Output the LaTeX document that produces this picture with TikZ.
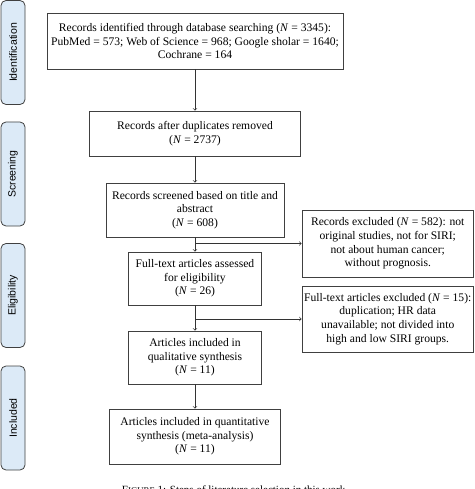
\documentclass[tikz,border=0pt]{standalone}
\usepackage{fontspec}
\setmainfont{Liberation Serif}
\newfontfamily\tabfont{Liberation Sans}
\usepackage{tikz}
\definecolor{tabblue}{HTML}{DCEAF7}

\begin{document}
\begin{tikzpicture}[x=1pt,y=-1pt,
  stagebox/.style={draw=black!75, line width=0.8pt, fill=white, align=center, inner sep=1pt, font=\fontsize{11.6}{13.7}\selectfont},
  phasetab/.style={draw=black!75, line width=0.8pt, fill=tabblue, rounded corners=5pt, minimum width=104pt, minimum height=24pt, rotate=90, inner sep=0pt, font=\tabfont\fontsize{10.5}{12}\selectfont},
  flow/.style={->, draw=black!80, line width=0.7pt}]
\useasboundingbox (0,0) rectangle (474,489);

\node[phasetab] (ident) at (13,52.5) {Identification};
\node[phasetab] (screen) at (13,174) {Screening};
\node[phasetab] (elig) at (13,295.5) {Eligibility};
\node[phasetab] (incl) at (13,418) {Included};

\node[stagebox, minimum width=296pt, minimum height=56pt] (found) at (195,41)
  {Records identified through database searching (\textit{N} = 3345):\\PubMed = 573; Web of Science = 968; Google sholar = 1640;\\Cochrane = 164};
\node[stagebox, minimum width=211pt, minimum height=45pt] (dedup) at (195,133.5)
  {Records after duplicates removed\\(\textit{N} = 2737)};
\node[stagebox, minimum width=178pt, minimum height=54pt] (screened) at (195,210)
  {Records screened based on title and\\abstract\\(\textit{N} = 608)};
\node[stagebox, minimum width=133pt, minimum height=53pt] (fulltext) at (195,278.5)
  {Full-text articles assessed\\for eligibility\\(\textit{N} = 26)};
\node[stagebox, minimum width=133pt, minimum height=53pt] (qual) at (195,357.5)
  {Articles included in\\qualitative synthesis\\(\textit{N} = 11)};
\node[stagebox, minimum width=171pt, minimum height=55pt] (quant) at (195,436.5)
  {Articles included in quantitative\\synthesis (meta-analysis)\\(\textit{N} = 11)};

\node[stagebox, minimum width=171.5pt, minimum height=67pt] (recexcl) at (387.75,243.5)
  {Records excluded (\textit{N} = 582): not\\original studies, not for SIRI;\\not about human cancer;\\without prognosis.};
\node[stagebox, minimum width=171.5pt, minimum height=66pt] (ftexcl) at (387.75,319)
  {Full-text articles excluded (\textit{N} = 15):\\duplication; HR data\\unavailable; not divided into\\high and low SIRI groups.};

\draw[flow] (found) -- (dedup);
\draw[flow] (dedup) -- (screened);
\draw[flow] (screened) -- (fulltext);
\draw[flow] (screened.south |- recexcl.west) -- (recexcl.west);
\draw[flow] (fulltext) -- (qual);
\draw[flow] (fulltext.south |- ftexcl.west) -- (ftexcl.west);
\draw[flow] (qual) -- (quant);

\node[anchor=north, inner sep=0pt, font=\fontsize{11}{12}\selectfont] (caption) at (235,486)
  {F{\fontsize{8.8}{10}\selectfont IGURE} 1: Steps of literature selection in this work.};
\end{tikzpicture}
\end{document}
